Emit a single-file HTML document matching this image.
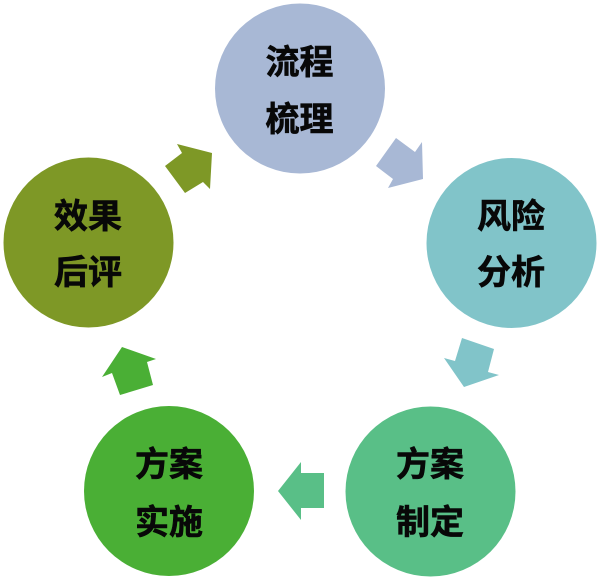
<!DOCTYPE html>
<html lang="zh">
<head>
<meta charset="utf-8">
<style>
html,body{margin:0;padding:0;background:#fff;width:600px;height:580px;overflow:hidden}
svg{display:block}
text{font-family:"Liberation Sans","Noto Sans CJK SC",sans-serif;font-weight:700;font-size:34px;fill:#080808;stroke:#080808;stroke-width:.6px;text-anchor:middle;filter:blur(.35px)}
</style>
</head>
<body>
<svg width="600" height="580" viewBox="0 0 600 580" xmlns="http://www.w3.org/2000/svg">
<rect width="600" height="580" fill="#fff"/>
<circle cx="300" cy="88.500" r="85" fill="#a8b8d5"/>
<circle cx="511.500" cy="243" r="85" fill="#81c4c9"/>
<circle cx="430.500" cy="491.500" r="85" fill="#59bf87"/>
<circle cx="169" cy="491" r="85" fill="#4aaf35"/>
<circle cx="88.500" cy="242.500" r="85" fill="#7e9826"/>
<polygon points="396,138 415,152 422,142 423,179 388,188 393,179 376,166" fill="#a8b8d5"/>
<polygon points="462,338 494,349 488,372 499,375 464,387 444,358 455,361" fill="#81c4c9"/>
<polygon points="278,491 301,462 301,473 324,473 324,508 301,508 301,520" fill="#59bf87"/>
<polygon points="122,347 156,359 147,362 153,385 120,395 112,373 102,377" fill="#4aaf35"/>
<polygon points="177,144 212,153 210,189 203,182 185,193 165,166 182,153" fill="#7e9826"/>
<text x="299.500" y="74">流程</text>
<text x="299.500" y="131">梳理</text>
<text x="511" y="228">风险</text>
<text x="511" y="284">分析</text>
<text x="430" y="476">方案</text>
<text x="430" y="534">制定</text>
<text x="169" y="476">方案</text>
<text x="169" y="534">实施</text>
<text x="88" y="228">效果</text>
<text x="88" y="284">后评</text>
</svg>
</body>
</html>
